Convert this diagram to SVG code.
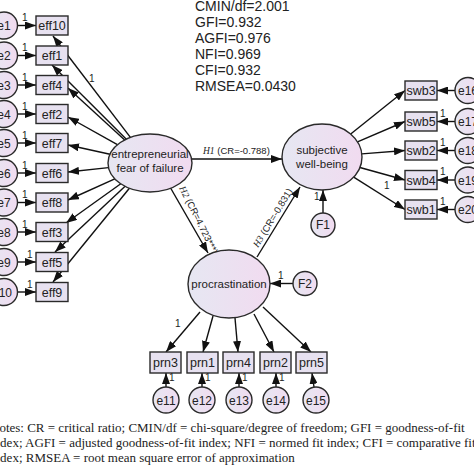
<svg xmlns="http://www.w3.org/2000/svg" width="474" height="474" viewBox="0 0 474 474">
<defs>
<linearGradient id="lg" x1="0" y1="0" x2="1" y2="0">
<stop offset="0" stop-color="#e6e7f2"/>
<stop offset="1" stop-color="#f1dbf0"/>
</linearGradient>
<marker id="ah" markerUnits="userSpaceOnUse" markerWidth="12" markerHeight="8" refX="11" refY="4" orient="auto">
<path d="M0,0 L11,4 L0,8 z" fill="#111"/>
</marker>
</defs>
<style>
.n{fill:url(#lg);stroke:#2a2a2a;stroke-width:1.4}
.b{fill:#e7e1f0;stroke:#2a2a2a;stroke-width:1.4}
.c line{stroke:#111;stroke-width:1.4;marker-end:url(#ah)}
.t{font-family:"Liberation Sans",Arial,sans-serif;fill:#222;text-anchor:middle}
.bt{font-size:12.5px}
.et{font-size:12px}
.lt{font-size:11.5px}
.one{font-family:"Liberation Sans",Arial,sans-serif;font-size:10px;fill:#222}
.st{font-family:"Liberation Sans",Arial,sans-serif;font-size:14px;fill:#222}
.h{font-family:"Liberation Sans",Arial,sans-serif;font-size:9.5px;fill:#222}
.hi{font-family:"Liberation Serif","Times New Roman",serif;font-style:italic}
.fn{font-family:"Liberation Serif","Times New Roman",serif;font-size:13px;fill:#222}
</style>
<g class="c">
<line x1="17.5" y1="25.5" x2="36" y2="25.5"/>
<line x1="17.5" y1="55.5" x2="36" y2="55.5"/>
<line x1="17.5" y1="85" x2="36" y2="85"/>
<line x1="17.5" y1="114" x2="36" y2="114"/>
<line x1="17.5" y1="143" x2="36" y2="143"/>
<line x1="17.5" y1="173" x2="36" y2="173"/>
<line x1="17.5" y1="202.5" x2="36" y2="202.5"/>
<line x1="17.5" y1="232" x2="36" y2="232"/>
<line x1="17.5" y1="262" x2="36" y2="262"/>
<line x1="17.5" y1="292" x2="36" y2="292"/>
<line x1="130.4" y1="137.3" x2="53" y2="36"/>
<line x1="126.1" y1="139.1" x2="52" y2="65"/>
<line x1="124.7" y1="139.9" x2="68" y2="88"/>
<line x1="117.4" y1="144.7" x2="68" y2="117"/>
<line x1="110" y1="154.2" x2="68" y2="145"/>
<line x1="108.5" y1="167.6" x2="68" y2="172"/>
<line x1="114.8" y1="178.9" x2="68" y2="200"/>
<line x1="120.8" y1="183.8" x2="66" y2="223"/>
<line x1="125.1" y1="186.3" x2="55" y2="252"/>
<line x1="129.4" y1="188.3" x2="53" y2="282"/>
<line x1="192" y1="159" x2="282" y2="159"/>
<line x1="170" y1="187" x2="208" y2="253"/>
<line x1="257" y1="257" x2="300" y2="187"/>
<line x1="323" y1="213" x2="323" y2="190"/>
<line x1="293" y1="283.5" x2="270" y2="283.5"/>
<line x1="350.7" y1="134" x2="405" y2="90.5"/>
<line x1="357.5" y1="141.8" x2="405" y2="121.5"/>
<line x1="361.8" y1="153.9" x2="405" y2="150.5"/>
<line x1="359.9" y1="167.5" x2="405" y2="180"/>
<line x1="353.7" y1="177.1" x2="405" y2="209.5"/>
<line x1="455" y1="90.5" x2="437" y2="90.5"/>
<line x1="455" y1="121.5" x2="437" y2="121.5"/>
<line x1="455" y1="150.5" x2="437" y2="150.5"/>
<line x1="455" y1="180" x2="437" y2="180"/>
<line x1="455" y1="209.5" x2="437" y2="209.5"/>
<line x1="200" y1="312" x2="166" y2="352"/>
<line x1="213" y1="316" x2="203" y2="352"/>
<line x1="235" y1="318" x2="238" y2="352"/>
<line x1="254" y1="314" x2="274" y2="352"/>
<line x1="263" y1="307" x2="311" y2="352"/>
<line x1="166" y1="387" x2="166" y2="373"/>
<line x1="202" y1="387" x2="202" y2="373"/>
<line x1="239" y1="387" x2="239" y2="373"/>
<line x1="276" y1="387" x2="276" y2="373"/>
<line x1="314" y1="387" x2="312" y2="373"/>
</g>
<g id="labels-one">
<text class="one" x="22" y="21">1</text>
<text class="one" x="22" y="51">1</text>
<text class="one" x="22" y="81">1</text>
<text class="one" x="22" y="110">1</text>
<text class="one" x="22" y="139">1</text>
<text class="one" x="22" y="169">1</text>
<text class="one" x="22" y="198">1</text>
<text class="one" x="22" y="228">1</text>
<text class="one" x="27" y="258">1</text>
<text class="one" x="27" y="288">1</text>
<text class="one" x="89" y="82">1</text>
<text class="one" x="440" y="117">1</text>
<text class="one" x="440" y="146">1</text>
<text class="one" x="440" y="175">1</text>
<text class="one" x="440" y="205">1</text>
<text class="one" x="384" y="189">1</text>
<text class="one" x="314" y="200">1</text>
<text class="one" x="278" y="279">1</text>
<text class="one" x="175" y="327">1</text>
<text class="one" x="169" y="381">1</text>
<text class="one" x="205" y="381">1</text>
<text class="one" x="242" y="381">1</text>
<text class="one" x="279" y="381">1</text>
</g>
<g id="stats">
<text class="st" x="195" y="11">CMIN/df=2.001</text>
<text class="st" x="195" y="27">GFI=0.932</text>
<text class="st" x="195" y="43">AGFI=0.976</text>
<text class="st" x="195" y="59">NFI=0.969</text>
<text class="st" x="195" y="75">CFI=0.932</text>
<text class="st" x="195" y="91">RMSEA=0.0430</text>
</g>
<g id="path-labels">
<text class="h" x="203" y="154"><tspan class="hi">H1</tspan> (CR=-0.788)</text>
<text class="h" transform="translate(179,188) rotate(63.4)"><tspan class="hi">H2</tspan> (CR=4.723***)</text>
<text class="h" transform="translate(258,248) rotate(-58.4)"><tspan class="hi">H3</tspan> (CR=-0.831)</text>
</g>
<g id="eff">
<ellipse class="n" cx="150" cy="163" rx="42" ry="29"/>
<text class="t lt" x="150" y="158">entrepreneurial</text>
<text class="t lt" x="150" y="172">fear of failure</text>
</g>
<g id="swb">
<ellipse class="n" cx="322" cy="157" rx="40" ry="33"/>
<text class="t lt" x="322" y="154">subjective</text>
<text class="t lt" x="322" y="168">well-being</text>
</g>
<g id="proc">
<ellipse class="n" cx="229" cy="284" rx="41" ry="34"/>
<text class="t lt" x="229" y="288">procrastination</text>
</g>
<g id="F1"><circle class="n" cx="323" cy="225" r="12"/><text class="t et" x="323" y="229">F1</text></g>
<g id="F2"><circle class="n" cx="305" cy="283.5" r="12"/><text class="t et" x="305" y="288">F2</text></g>
<g id="eff10"><rect class="b" x="36" y="16" width="32" height="19"/><text class="t bt" x="52" y="30">eff10</text></g>
<g id="eff1"><rect class="b" x="36" y="46" width="32" height="19"/><text class="t bt" x="52" y="60">eff1</text></g>
<g id="eff4"><rect class="b" x="36" y="75.5" width="32" height="19"/><text class="t bt" x="52" y="89.5">eff4</text></g>
<g id="eff2"><rect class="b" x="36" y="104.5" width="32" height="19"/><text class="t bt" x="52" y="118.5">eff2</text></g>
<g id="eff7"><rect class="b" x="36" y="133.5" width="32" height="19"/><text class="t bt" x="52" y="147.5">eff7</text></g>
<g id="eff6"><rect class="b" x="36" y="163.5" width="32" height="19"/><text class="t bt" x="52" y="177.5">eff6</text></g>
<g id="eff8"><rect class="b" x="36" y="193" width="32" height="19"/><text class="t bt" x="52" y="207">eff8</text></g>
<g id="eff3"><rect class="b" x="36" y="222.5" width="32" height="19"/><text class="t bt" x="52" y="236.5">eff3</text></g>
<g id="eff5"><rect class="b" x="36" y="252.5" width="32" height="19"/><text class="t bt" x="52" y="266.5">eff5</text></g>
<g id="eff9"><rect class="b" x="36" y="282.5" width="32" height="19"/><text class="t bt" x="52" y="296.5">eff9</text></g>
<g id="e1"><circle class="n" cx="4" cy="25.5" r="13.5"/><text class="t et" x="4" y="30">e1</text></g>
<g id="e2"><circle class="n" cx="4" cy="55.5" r="13.5"/><text class="t et" x="4" y="60">e2</text></g>
<g id="e3"><circle class="n" cx="4" cy="85" r="13.5"/><text class="t et" x="4" y="89.5">e3</text></g>
<g id="e4"><circle class="n" cx="4" cy="114" r="13.5"/><text class="t et" x="4" y="118.5">e4</text></g>
<g id="e5"><circle class="n" cx="4" cy="143" r="13.5"/><text class="t et" x="4" y="147.5">e5</text></g>
<g id="e6"><circle class="n" cx="4" cy="173" r="13.5"/><text class="t et" x="4" y="177.5">e6</text></g>
<g id="e7"><circle class="n" cx="4" cy="202.5" r="13.5"/><text class="t et" x="4" y="207">e7</text></g>
<g id="e8"><circle class="n" cx="4" cy="232" r="13.5"/><text class="t et" x="4" y="236.5">e8</text></g>
<g id="e9"><circle class="n" cx="4" cy="262" r="13.5"/><text class="t et" x="4" y="266.5">e9</text></g>
<g id="e10"><circle class="n" cx="4" cy="292" r="13.5"/><text class="t et" x="2" y="296.5">e10</text></g>
<g id="swb3"><rect class="b" x="405" y="81" width="32" height="19"/><text class="t bt" x="421" y="95">swb3</text></g>
<g id="swb5"><rect class="b" x="405" y="112" width="32" height="19"/><text class="t bt" x="421" y="126">swb5</text></g>
<g id="swb2"><rect class="b" x="405" y="141" width="32" height="19"/><text class="t bt" x="421" y="155">swb2</text></g>
<g id="swb4"><rect class="b" x="405" y="170.5" width="32" height="19"/><text class="t bt" x="421" y="184.5">swb4</text></g>
<g id="swb1"><rect class="b" x="405" y="200" width="32" height="19"/><text class="t bt" x="421" y="214">swb1</text></g>
<g id="e16"><circle class="n" cx="468" cy="90.5" r="13"/><text class="t et" x="468" y="95">e16</text></g>
<g id="e17"><circle class="n" cx="468" cy="121.5" r="13"/><text class="t et" x="468" y="126">e17</text></g>
<g id="e18"><circle class="n" cx="468" cy="150.5" r="13"/><text class="t et" x="468" y="155">e18</text></g>
<g id="e19"><circle class="n" cx="468" cy="180" r="13"/><text class="t et" x="468" y="184.5">e19</text></g>
<g id="e20"><circle class="n" cx="468" cy="209.5" r="13"/><text class="t et" x="468" y="214">e20</text></g>
<g id="prn3"><rect class="b" x="150" y="352" width="31" height="21"/><text class="t bt" x="165.5" y="367">prn3</text></g>
<g id="prn1"><rect class="b" x="187" y="352" width="31" height="21"/><text class="t bt" x="202.5" y="367">prn1</text></g>
<g id="prn4"><rect class="b" x="223" y="352" width="31" height="21"/><text class="t bt" x="238.5" y="367">prn4</text></g>
<g id="prn2"><rect class="b" x="260" y="352" width="31" height="21"/><text class="t bt" x="275.5" y="367">prn2</text></g>
<g id="prn5"><rect class="b" x="296" y="352" width="31" height="21"/><text class="t bt" x="311.5" y="367">prn5</text></g>
<g id="e11"><circle class="n" cx="166" cy="400" r="13"/><text class="t et" x="166" y="404.5">e11</text></g>
<g id="e12"><circle class="n" cx="202" cy="400" r="13"/><text class="t et" x="202" y="404.5">e12</text></g>
<g id="e13"><circle class="n" cx="239" cy="400" r="13"/><text class="t et" x="239" y="404.5">e13</text></g>
<g id="e14"><circle class="n" cx="276" cy="400" r="13"/><text class="t et" x="276" y="404.5">e14</text></g>
<g id="e15"><circle class="n" cx="316" cy="400" r="13"/><text class="t et" x="316" y="404.5">e15</text></g>
<g id="notes">
<text class="fn" x="-10" y="432">Notes: CR = critical ratio; CMIN/df = chi-square/degree of freedom; GFI = goodness-of-fit</text>
<text class="fn" x="-10" y="447">index; AGFI = adjusted goodness-of-fit index; NFI = normed fit index; CFI = comparative fit</text>
<text class="fn" x="-10" y="462">index; RMSEA = root mean square error of approximation</text>
</g>
</svg>
